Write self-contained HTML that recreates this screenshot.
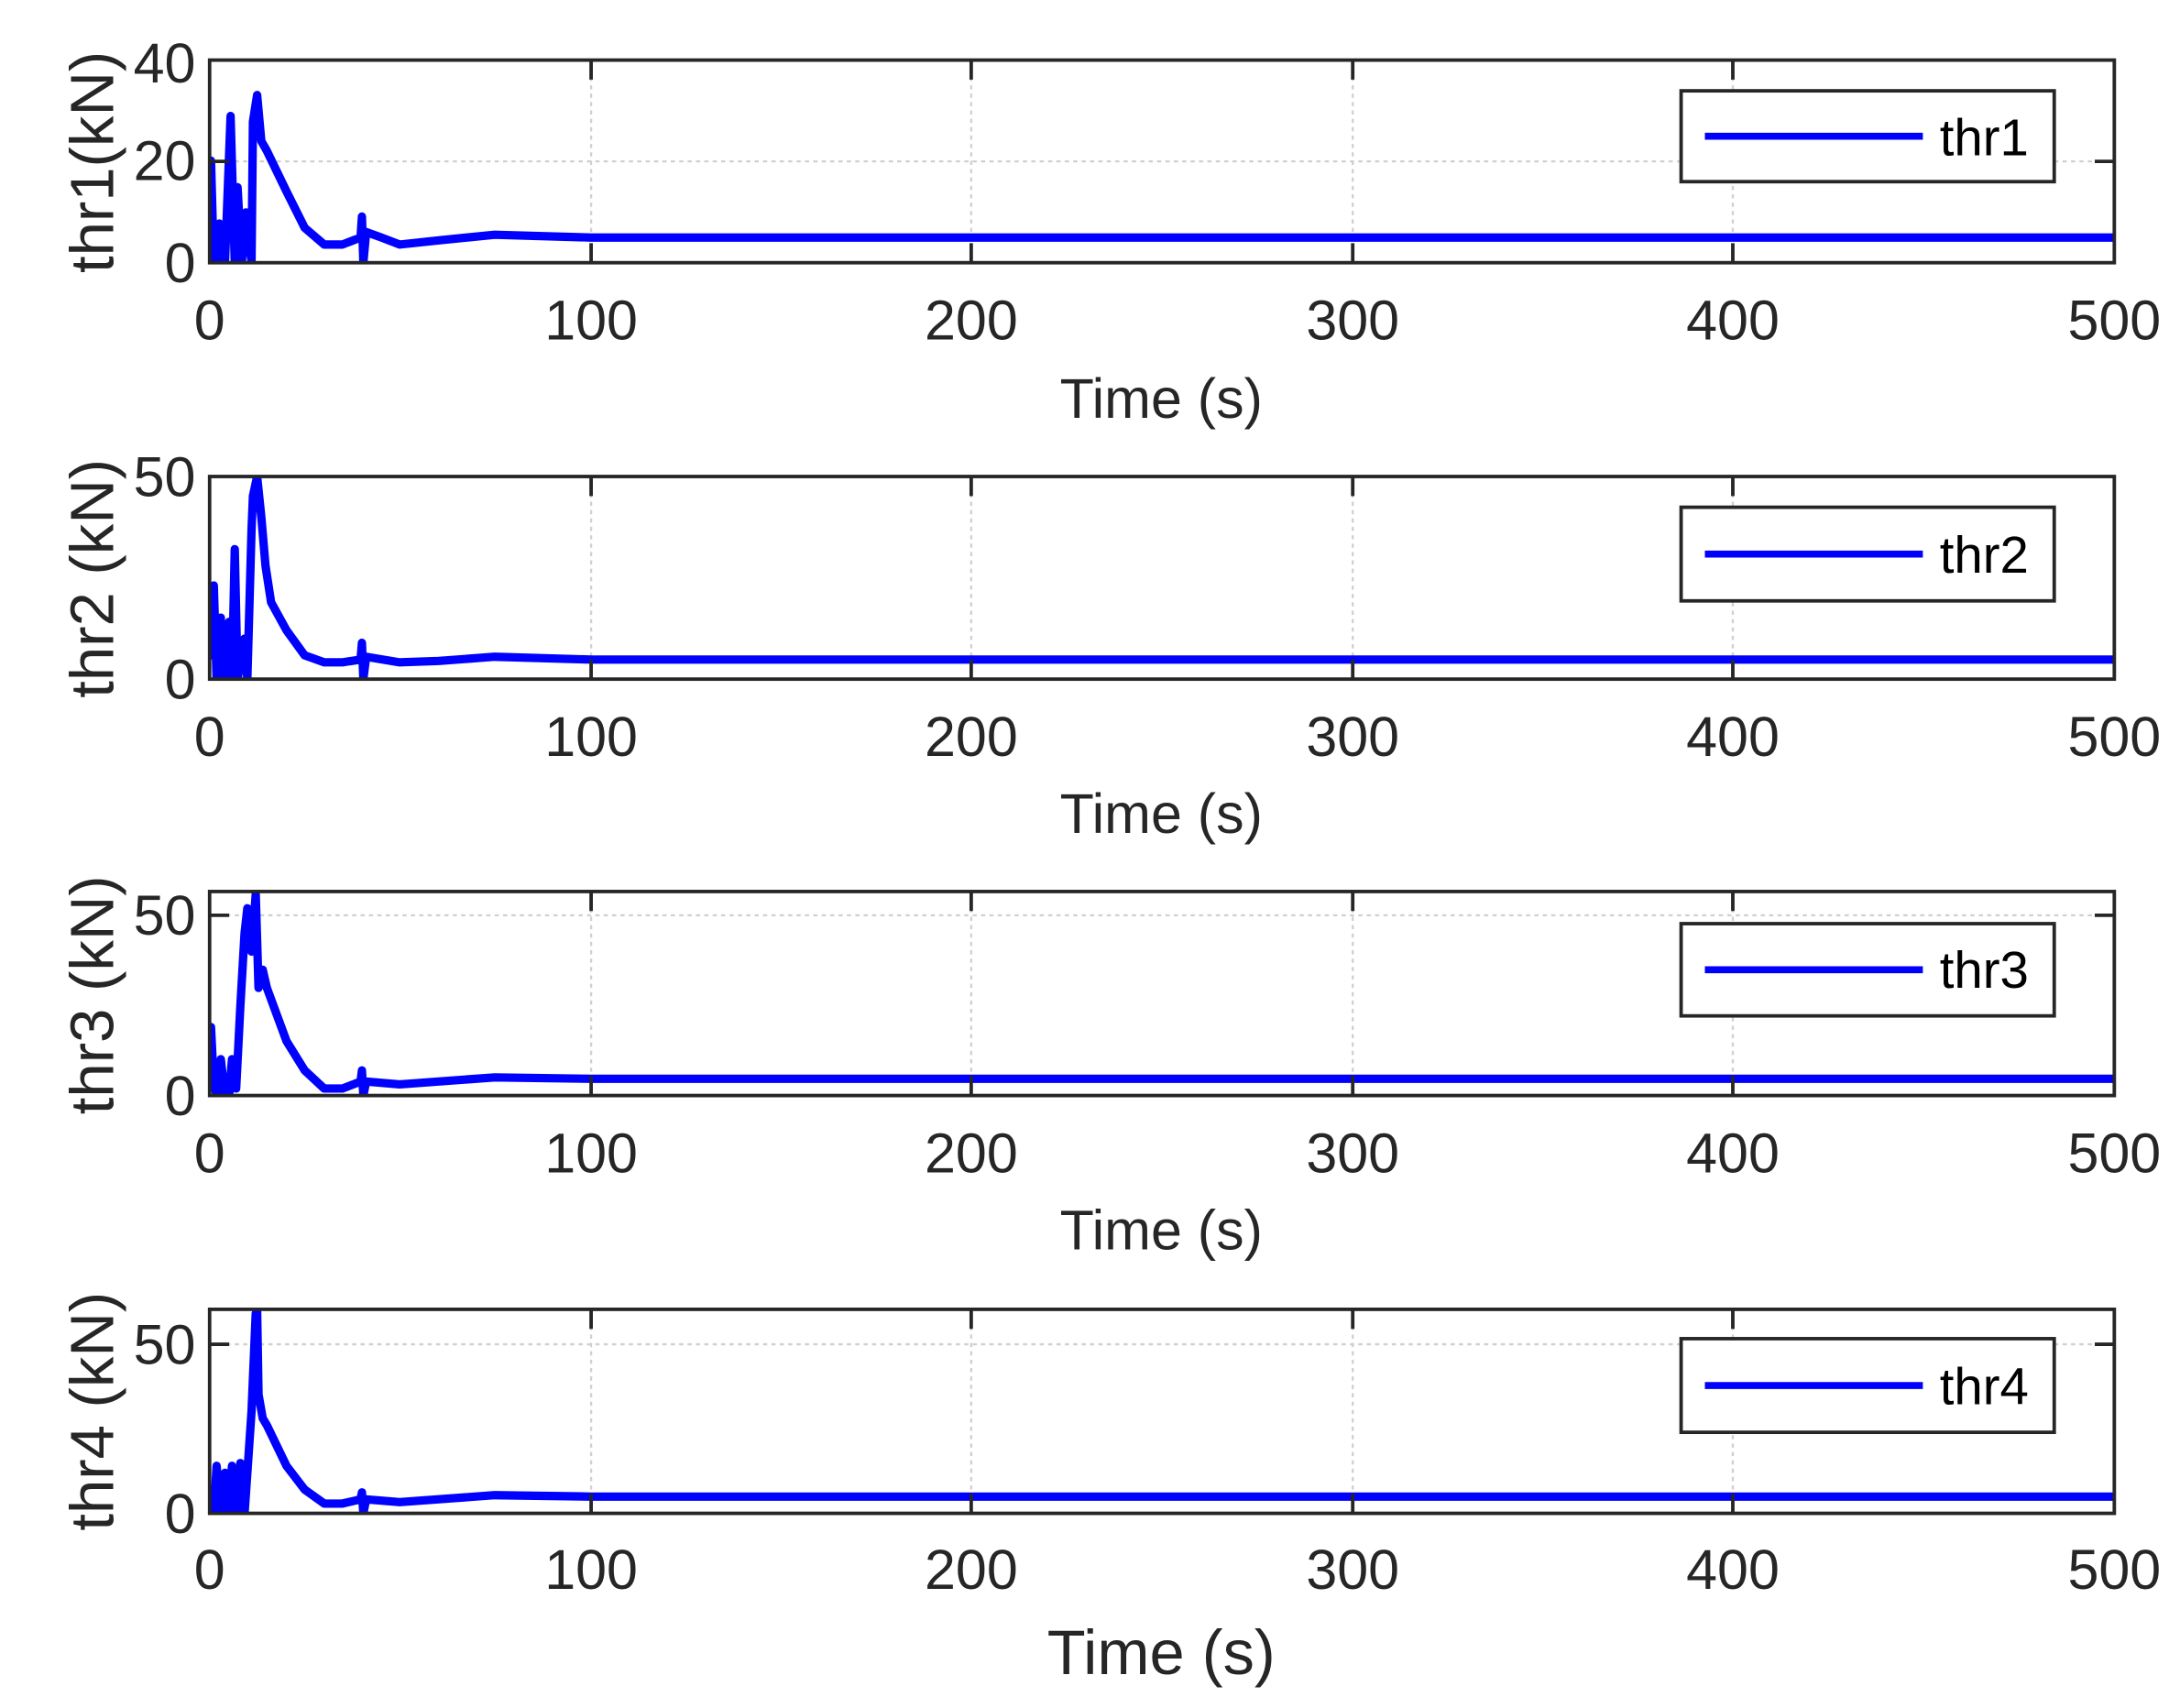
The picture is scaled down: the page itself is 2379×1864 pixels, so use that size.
<!DOCTYPE html>
<html><head><meta charset="utf-8"><style>
html,body{margin:0;padding:0;background:#fff;}
svg{display:block;}
text{font-family:"Liberation Sans",Arial,sans-serif;fill:#262626;}
</style></head><body>
<svg width="2379" height="1864" viewBox="0 0 1560 1222.3" preserveAspectRatio="none" xmlns="http://www.w3.org/2000/svg">
<defs>
<clipPath id="c1"><rect x="150" y="43" width="1363" height="145"/></clipPath>
<clipPath id="c2"><rect x="150" y="341" width="1363" height="145"/></clipPath>
<clipPath id="c3"><rect x="150" y="638" width="1363" height="146"/></clipPath>
<clipPath id="c4"><rect x="150" y="937" width="1363" height="146"/></clipPath>
</defs>
<g stroke="#d0d0d0" stroke-width="1.5" stroke-dasharray="3,3" fill="none">
<path d="M423 43V188M695 43V188M968 43V188M1240 43V188M150 115.5H1513"/>
<path d="M423 341V486M695 341V486M968 341V486M1240 341V486"/>
<path d="M423 638V784M695 638V784M968 638V784M1240 638V784M150 655H1513"/>
<path d="M423 937V1083M695 937V1083M968 937V1083M1240 937V1083M150 962H1513"/>
</g>
<g fill="none" stroke="#0000ff" stroke-width="6" stroke-linejoin="round">
<polyline clip-path="url(#c1)" points="150,130 151,115 153,188 155,188 157,160 159,188 161,188 165,83 168,188 170,134 173,188 176,152 180,188 181,87 184,68 187,101 191,108 205,137 218,163 232,175 245,175 258,170 259,155 260,188 262,166 273,170 286,175 314,172 354,168 423,170 1513,170"/>
<polyline clip-path="url(#c2)" points="150,472 153,419 155,486 158,442 161,486 164,445 166,486 168,393 170,486 175,457 177,486 180,379 181,355 184,341 187,370 190,405 194,431 205,451 218,469 232,474 245,474 258,472 259,460 260,486 262,470 286,474 314,473 354,470 423,472 1513,472"/>
<polyline clip-path="url(#c3)" points="150,740 151,735 153,776 155,784 158,758 161,784 164,784 166,758 169,779 172,720 175,668 177,650 180,681 183,640 185,707 188,694 191,707 205,745 218,766 232,779 245,779 258,774 259,766 260,784 262,774 286,776 354,771 423,772 1513,772"/>
<polyline clip-path="url(#c4)" points="150,1071 153,1083 155,1049 158,1083 161,1054 164,1083 166,1049 169,1083 172,1047 175,1083 177,1054 180,1010 183,940 184,938 185,998 188,1015 191,1020 205,1049 218,1066 232,1076 245,1076 258,1073 259,1068 260,1083 262,1073 286,1075 354,1070 423,1071 1513,1071"/>
</g>
<g fill="none" stroke="#262626" stroke-width="2.5">
<rect x="150" y="43" width="1363" height="145"/>
<rect x="150" y="341" width="1363" height="145"/>
<rect x="150" y="638" width="1363" height="146"/>
<rect x="150" y="937" width="1363" height="146"/>
<path d="M423 43v14M695 43v14M968 43v14M1240 43v14M423 188v-14M695 188v-14M968 188v-14M1240 188v-14M150 115.5h14M1513 115.5h-14"/>
<path d="M423 341v14M695 341v14M968 341v14M1240 341v14M423 486v-14M695 486v-14M968 486v-14M1240 486v-14"/>
<path d="M423 638v14M695 638v14M968 638v14M1240 638v14M423 784v-14M695 784v-14M968 784v-14M1240 784v-14M150 655h14M1513 655h-14"/>
<path d="M423 937v14M695 937v14M968 937v14M1240 937v14M423 1083v-14M695 1083v-14M968 1083v-14M1240 1083v-14M150 962h14M1513 962h-14"/>
<rect x="1203" y="65" width="267" height="65" fill="#fff"/>
<rect x="1203" y="363" width="267" height="67" fill="#fff"/>
<rect x="1203" y="661" width="267" height="66" fill="#fff"/>
<rect x="1203" y="958" width="267" height="67" fill="#fff"/>
</g>
<g stroke="#0000ff" stroke-width="5">
<path d="M1220 97.5H1376M1220 396.5H1376M1220 694H1376M1220 991.5H1376"/>
</g>
<g font-size="37">
<text x="1388" y="111" style="fill:#000">thr1</text>
<text x="1388" y="410" style="fill:#000">thr2</text>
<text x="1388" y="707" style="fill:#000">thr3</text>
<text x="1388" y="1005" style="fill:#000">thr4</text>
</g>
<g font-size="40" text-anchor="middle">
<text x="150" y="243">0</text><text x="423" y="243">100</text><text x="695" y="243">200</text><text x="968" y="243">300</text><text x="1240" y="243">400</text><text x="1513" y="243">500</text>
<text x="150" y="541">0</text><text x="423" y="541">100</text><text x="695" y="541">200</text><text x="968" y="541">300</text><text x="1240" y="541">400</text><text x="1513" y="541">500</text>
<text x="150" y="839">0</text><text x="423" y="839">100</text><text x="695" y="839">200</text><text x="968" y="839">300</text><text x="1240" y="839">400</text><text x="1513" y="839">500</text>
<text x="150" y="1137">0</text><text x="423" y="1137">100</text><text x="695" y="1137">200</text><text x="968" y="1137">300</text><text x="1240" y="1137">400</text><text x="1513" y="1137">500</text>
<text x="831" y="299">Time (s)</text>
<text x="831" y="596">Time (s)</text>
<text x="831" y="894">Time (s)</text>
<text x="831" y="1198" font-size="45">Time (s)</text>
</g>
<g font-size="40" text-anchor="end">
<text x="140" y="202">0</text><text x="140" y="129">20</text><text x="140" y="59">40</text>
<text x="140" y="500">0</text><text x="140" y="355">50</text>
<text x="140" y="798">0</text><text x="140" y="669">50</text>
<text x="140" y="1097">0</text><text x="140" y="976">50</text>
</g>
<g font-size="44" text-anchor="middle">
<text transform="translate(81,116) rotate(-90)">thr1(kN)</text>
<text transform="translate(81,414) rotate(-90)">thr2 (kN)</text>
<text transform="translate(81,712) rotate(-90)">thr3 (kN)</text>
<text transform="translate(81,1010) rotate(-90)">thr4 (kN)</text>
</g>
</svg>
</body></html>
